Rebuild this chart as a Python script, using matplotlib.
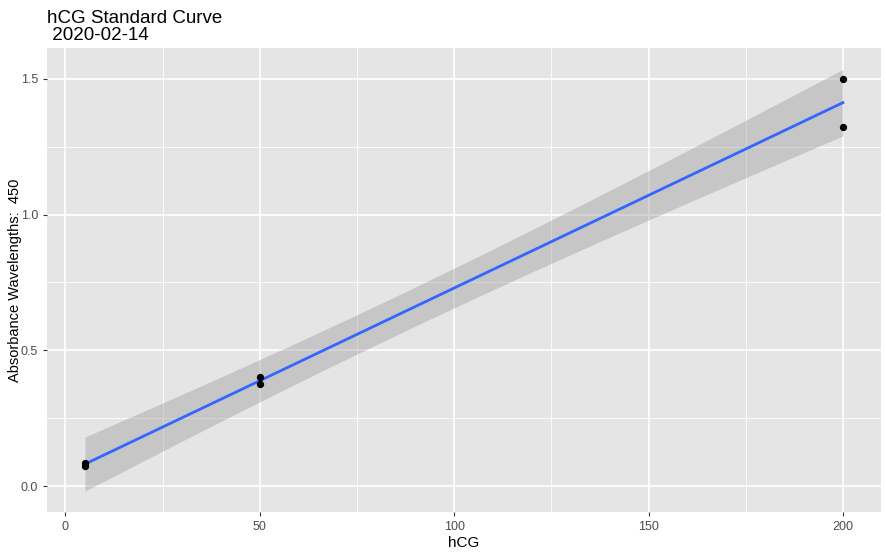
import matplotlib
matplotlib.use('Agg')
import matplotlib.pyplot as plt
import numpy as np

plt.rcParams['font.family'] = ['Liberation Sans', 'DejaVu Sans']

# standard curve readings
hcg = [5, 5, 50, 50, 200, 200]
absorbance = [0.087, 0.073, 0.403, 0.378, 1.500, 1.323]

x = np.array(hcg, dtype=float)
y = np.array(absorbance)

# linear fit with 95% confidence band (like geom_smooth(method='lm'))
n = len(x)
slope, intercept = np.polyfit(x, y, 1)
resid = y - (slope * x + intercept)
s = np.sqrt(np.sum(resid ** 2) / (n - 2))
t_crit = 2.776445  # t(0.975, df=4)
xs = np.linspace(x.min(), x.max(), 80)
fit = slope * xs + intercept
se = s * np.sqrt(1.0 / n + (xs - x.mean()) ** 2 / np.sum((x - x.mean()) ** 2))
lo = fit - t_crit * se
hi = fit + t_crit * se

fig = plt.figure(figsize=(8.87, 5.55), dpi=100)
ax = fig.add_axes([0.053, 0.077, 0.940, 0.836])
ax.set_facecolor('#E5E5E5')

ax.fill_between(xs, lo, hi, color='#999999', alpha=0.4, linewidth=0, zorder=2)
ax.plot(xs, fit, color='#3366FF', linewidth=2, zorder=3)
ax.scatter(x, y, s=18, color='black', zorder=4)

xr = x.max() - x.min()
ax.set_xlim(x.min() - 0.05 * xr, x.max() + 0.05 * xr)
ymin, ymax = min(lo.min(), y.min()), max(hi.max(), y.max())
yr = ymax - ymin
ax.set_ylim(ymin - 0.05 * yr, ymax + 0.05 * yr)

ax.set_xticks([0, 50, 100, 150, 200])
ax.set_xticks([25, 75, 125, 175], minor=True)
ax.set_yticks([0.0, 0.5, 1.0, 1.5])
ax.set_yticklabels(['0.0', '0.5', '1.0', '1.5'])
ax.set_yticks([0.25, 0.75, 1.25], minor=True)

ax.grid(which='major', color='white', linewidth=1.2, zorder=0)
ax.grid(which='minor', color='white', linewidth=0.6, zorder=0)
ax.set_axisbelow(True)
for sp in ax.spines.values():
    sp.set_visible(False)
ax.tick_params(which='major', colors='#333333', length=3, labelsize=9, labelcolor='#4D4D4D')
ax.tick_params(which='minor', length=0)

ax.set_xlabel('hCG', fontsize=11, labelpad=2)
ax.set_ylabel('Absorbance Wavelengths:  450', fontsize=10.5)
ax.yaxis.set_label_coords(-0.03, 0.5)
ax.set_title('hCG Standard Curve\n 2020-02-14', loc='left', fontsize=13.5, pad=6, linespacing=1.0)

fig.savefig('out.png', dpi=100)
